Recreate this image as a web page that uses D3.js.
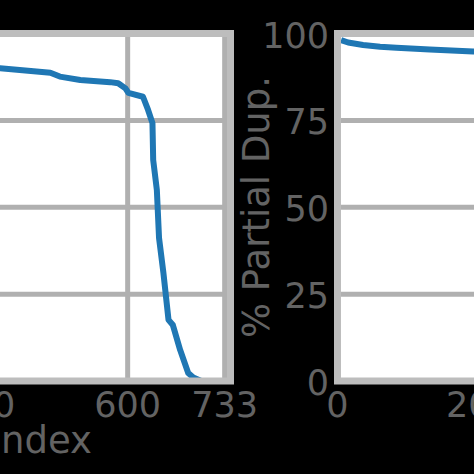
<!DOCTYPE html>
<html>
<head>
<meta charset="utf-8">
<script src="https://cdn.jsdelivr.net/npm/d3@7"></script>
<style>
html,body{margin:0;padding:0;background:#000;}
svg{display:block;}
text{font-family:"DejaVu Sans",sans-serif;fill:#636363;}
</style>
</head>
<body>
<svg id="chart" width="474" height="474"></svg>
<script>
// Left panel: sorted duplication curve (index vs %)
const leftIndex = [0, 50, 150, 250, 350, 425, 452, 494, 507, 535, 576, 587, 597, 601, 621, 628, 634, 635, 640, 643, 649, 656, 662, 672, 683, 690, 701];
const leftValue = [99.5, 96.5, 94.0, 92.5, 91.0, 90.0, 89.5, 88.7, 87.6, 86.6, 86.0, 85.7, 84.2, 82.9, 81.8, 78.0, 74.2, 63.6, 55.0, 41.2, 31.1, 17.6, 16.1, 8.9, 2.3, 1.0, 0.0];
const leftXTicks = [0, 200, 400, 600, 733];

// Right panel: % partial duplication
const rightIndex = [5, 15, 36, 60, 83, 130, 191, 260];
const rightValue = [98.1, 97.4, 96.7, 96.2, 95.9, 95.4, 94.8, 94.2];
const rightXTicks = [0, 200];
const yTicks = [0, 25, 50, 75, 100];

const svg = d3.select("#chart");
const tickFont = 35, labelFont = 37;
const gridColor = "#b0b0b0", spineColor = "#bdbdbd", lineColor = "#1f77b4";

const y = d3.scaleLinear().domain([0, 100]).range([381, 33.5]);
const xL = d3.scaleLinear().domain([0, 741]).range([-309.9, 230.5]);
const xR = d3.scaleLinear().domain([0, 200]).range([337.5, 479.5]);

function panel(x, xTicks, idx, vals, x0, x1) {
  const g = svg.append("g");
  g.append("rect").attr("x", x0).attr("y", y(100)).attr("width", x1 - x0).attr("height", y(0) - y(100)).attr("fill", "#fff");
  // gridlines
  g.selectAll(".hg").data(yTicks).join("line")
    .attr("x1", x0).attr("x2", x1).attr("y1", d => y(d)).attr("y2", d => y(d))
    .attr("stroke", gridColor).attr("stroke-width", 5);
  g.selectAll(".vg").data(xTicks).join("line")
    .attr("x1", d => x(d)).attr("x2", d => x(d)).attr("y1", y(0)).attr("y2", y(100))
    .attr("stroke", gridColor).attr("stroke-width", 5);
  // line
  const pts = idx.map((d, i) => [d, vals[i]]);
  g.append("path").datum(pts)
    .attr("d", d3.line().x(d => x(d[0])).y(d => y(d[1])))
    .attr("fill", "none").attr("stroke", lineColor).attr("stroke-width", 6)
    .attr("stroke-linejoin", "round").attr("stroke-linecap", "butt");
  // frame
  g.append("rect").attr("x", x0).attr("y", y(100)).attr("width", x1 - x0).attr("height", y(0) - y(100))
    .attr("fill", "none").attr("stroke", spineColor).attr("stroke-width", 7);
  // x tick labels
  g.selectAll(".xt").data(xTicks).join("text")
    .attr("x", d => x(d)).attr("y", 417).attr("text-anchor", "middle")
    .attr("font-size", tickFont).text(d => d);
  return g;
}

panel(xL, leftXTicks, leftIndex, leftValue, xL(0), xL(741));
panel(xR, rightXTicks, rightIndex, rightValue, xR(0), xR(300));

// Right panel y tick labels
svg.selectAll(".yt").data(yTicks).join("text")
  .attr("x", 329).attr("y", d => y(d) + 14).attr("text-anchor", "end")
  .attr("font-size", tickFont).text(d => d);

// Axis labels
svg.append("text").attr("x", 92).attr("y", 453).attr("text-anchor", "end")
  .attr("font-size", labelFont).text("Index");
svg.append("text").attr("transform", "translate(269,207) rotate(-90)")
  .attr("text-anchor", "middle").attr("font-size", labelFont).text("% Partial Dup.");
</script>
</body>
</html>
